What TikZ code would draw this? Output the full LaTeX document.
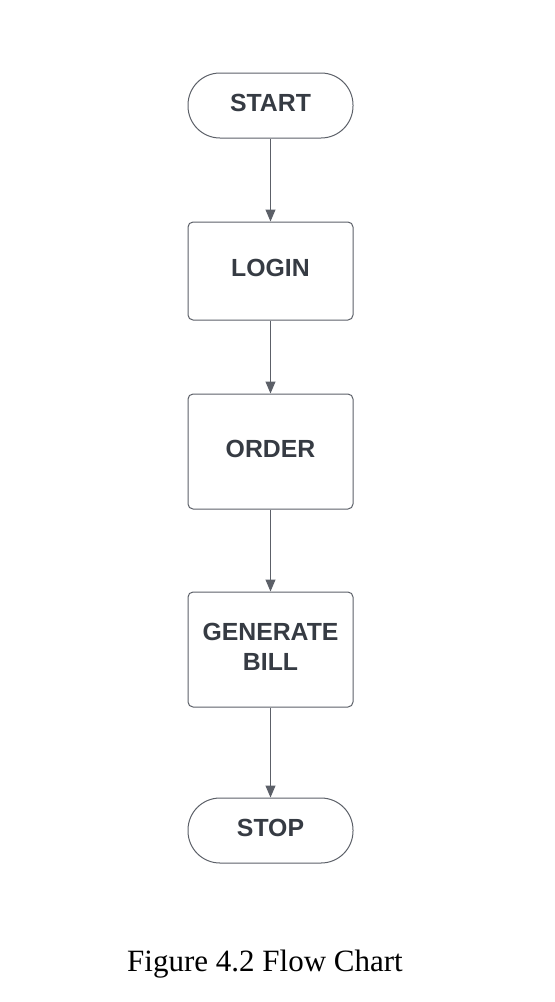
\documentclass[tikz,border=0pt]{standalone}
\usepackage{fontspec}
\setmainfont{Liberation Serif}
\newfontfamily\boxfont{Liberation Sans}
\usepackage{xcolor}
\usetikzlibrary{arrows.meta}

\definecolor{boxline}{HTML}{5C6068}
\definecolor{boxtext}{HTML}{363B43}

\tikzset{
    flowbox/.style={draw=boxline, line width=0.5pt, rounded corners=2.5pt,
        minimum width=82.5pt, inner sep=0pt, text depth=3pt, align=center,
        text=boxtext, font=\boxfont\bfseries\fontsize{12.4}{15}\selectfont},
    terminal/.style={flowbox, rounded corners=16pt, minimum height=32.5pt},
    flowarrow/.style={draw=boxline, line width=0.5pt,
        -{Triangle[length=6pt, width=5pt]}}
}

\begin{document}
\begin{tikzpicture}[x=0.5pt, y=-0.5pt]
    \useasboundingbox (0,0) rectangle (554,1002);

    % terminals and steps
    \node[terminal] (start) at (270.5,105.5) {START};
    \node[flowbox, minimum height=49pt] (login) at (270.5,271) {LOGIN};
    \node[flowbox, minimum height=57.5pt] (order) at (270.5,451.5) {ORDER};
    \node[flowbox, minimum height=57.5pt] (bill) at (270.5,649.5) {GENERATE\\BILL};
    \node[terminal] (stop) at (270.5,830.5) {STOP};

    % connectors
    \draw[flowarrow] (start) -- (login);
    \draw[flowarrow] (login) -- (order);
    \draw[flowarrow] (order) -- (bill);
    \draw[flowarrow] (bill) -- (stop);

    % caption
    \node[font=\fontsize{15.5}{18}\selectfont] (caption) at (265,964) {Figure 4.2 Flow Chart};

\end{tikzpicture}
\end{document}
